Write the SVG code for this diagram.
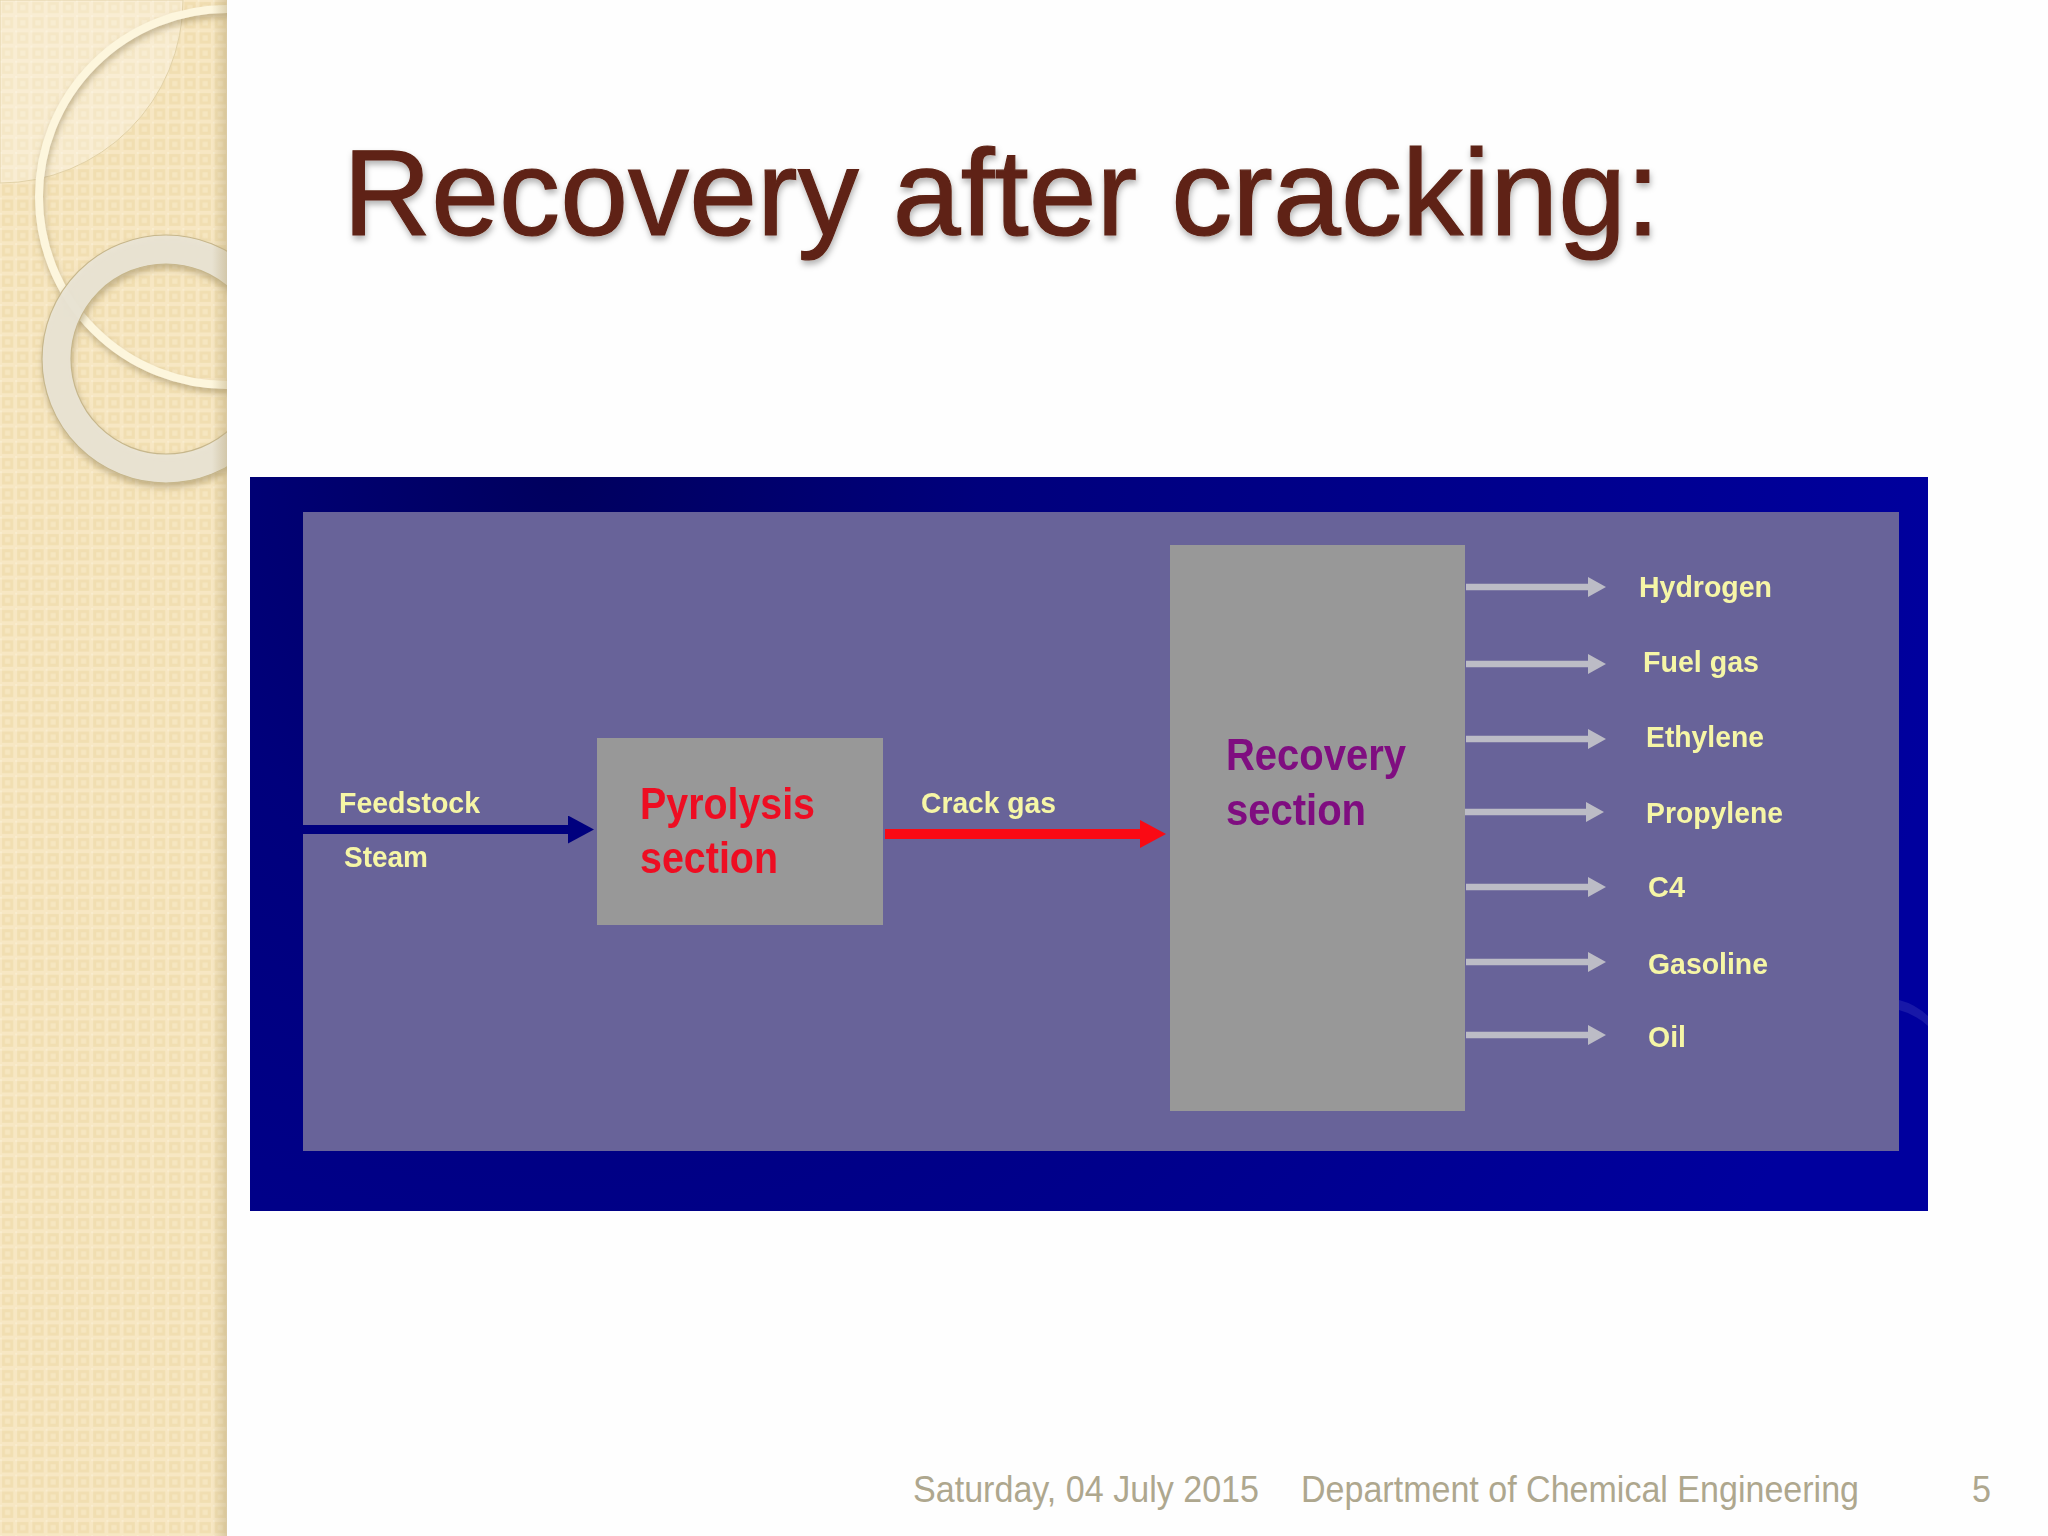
<svg xmlns="http://www.w3.org/2000/svg" width="2048" height="1536" viewBox="0 0 2048 1536">
<defs>
<pattern id="weave" width="15.2" height="15.2" patternUnits="userSpaceOnUse">
<rect width="15.2" height="15.2" fill="#f7e7c3"/>
<rect x="2" y="2" width="11.2" height="11.2" fill="#f1deb1"/>
<rect x="5" y="5" width="5.2" height="5.2" fill="#f6e6c0"/>
<rect x="0" y="0" width="2" height="2" fill="#f9edcf"/>
</pattern>
<linearGradient id="edge" x1="0" x2="1" y1="0" y2="0">
<stop offset="0" stop-color="#b8a67a" stop-opacity="0"/>
<stop offset="1" stop-color="#b8a67a" stop-opacity=".45"/>
</linearGradient>
<radialGradient id="navy" gradientUnits="userSpaceOnUse" cx="560" cy="470" r="1400">
<stop offset="0" stop-color="#00005e"/>
<stop offset=".3" stop-color="#00007c"/>
<stop offset=".65" stop-color="#00008c"/>
<stop offset="1" stop-color="#00009e"/>
</radialGradient>
<clipPath id="side"><rect width="227" height="1536"/></clipPath>
<filter id="ringShadow" x="-20%" y="-20%" width="140%" height="140%"><feDropShadow dx="1" dy="4" stdDeviation="3" flood-color="#8c7a50" flood-opacity=".5"/></filter>
<filter id="titleShadow" x="-5%" y="-20%" width="110%" height="150%"><feDropShadow dx="1" dy="4" stdDeviation="3" flood-color="#000" flood-opacity=".3"/></filter>
<filter id="soft" x="-10%" y="-30%" width="120%" height="160%"><feGaussianBlur stdDeviation=".6"/></filter>
<marker id="hBlue" markerUnits="userSpaceOnUse" markerWidth="27" markerHeight="28" refX="0" refY="14" orient="auto"><path d="M0 0L26 14L0 28Z" fill="#00007e"/></marker>
<marker id="hRed" markerUnits="userSpaceOnUse" markerWidth="27" markerHeight="28" refX="0" refY="14" orient="auto"><path d="M0 0L26 14L0 28Z" fill="#fa0a14"/></marker>
<marker id="hGray" markerUnits="userSpaceOnUse" markerWidth="18" markerHeight="20" refX="0" refY="10" orient="auto"><path d="M0 0L18 10L0 20Z" fill="#bcbcc6"/></marker>
<style>
text{font-family:"Liberation Sans",Arial,sans-serif}
.lab{font-size:30px;font-weight:700;fill:#f6f6a6}
.box{fill:#989898}
.big{font-size:44px;font-weight:700}
.foot{font-size:36px;fill:#aea78e}
.gray{stroke:#bcbcc6;stroke-width:6.5;fill:none;marker-end:url(#hGray)}
</style>
</defs>
<rect width="2048" height="1536" fill="#fefefe"/>
<g id="sidebar" clip-path="url(#side)">
<rect width="227" height="1536" fill="url(#weave)"/>
<path d="M0 0H183A183 183 0 0 1 0 183Z" fill="#fff" fill-opacity=".28" stroke="#e2d2a8" stroke-width="1"/>
<circle cx="227" cy="197" r="188" fill="none" stroke="#fdf6dd" stroke-width="8" filter="url(#ringShadow)"/>
<path fill-rule="evenodd" d="M42 359a124 124 0 1 0 248 0a124 124 0 1 0 -248 0ZM71 359a95 95 0 1 1 190 0a95 95 0 1 1 -190 0Z" fill="#e9e4d5" fill-opacity=".93" stroke="#c7b78c" stroke-width="1.2" filter="url(#ringShadow)"/>
<rect x="212" width="15" height="1536" fill="url(#edge)"/>
</g>
<g id="title"><text x="343" y="235" font-size="122" fill="#5e2314" stroke="#5e2314" stroke-width="1.2" textLength="1317" filter="url(#titleShadow)">Recovery after cracking:</text></g>
<g id="panel">
<rect x="250" y="477" width="1678" height="734" fill="url(#navy)"/>
<path d="M1899 1000V1010Q1915 1014 1928 1026V1016Q1915 1004 1899 1000Z" fill="#1818a8"/>
<rect x="303" y="512" width="1596" height="639" fill="#686399"/>
</g>
<g id="connectors">
<line x1="303" y1="829.5" x2="568" y2="829.5" stroke="#00007e" stroke-width="9" marker-end="url(#hBlue)"/>
<line x1="885" y1="834" x2="1140" y2="834" stroke="#fa0a14" stroke-width="10" marker-end="url(#hRed)"/>
<line class="gray" x1="1466" y1="587" x2="1588" y2="587"/>
<line class="gray" x1="1466" y1="664" x2="1588" y2="664"/>
<line class="gray" x1="1466" y1="739" x2="1588" y2="739"/>
<line class="gray" x1="1464" y1="812" x2="1586" y2="812"/>
<line class="gray" x1="1466" y1="887" x2="1588" y2="887"/>
<line class="gray" x1="1466" y1="962" x2="1588" y2="962"/>
<line class="gray" x1="1466" y1="1035" x2="1588" y2="1035"/>
</g>
<g id="pyrolysis">
<rect class="box" x="597" y="738" width="286" height="187"/>
<text class="big" x="640" y="819" fill="#ee0f23" textLength="175" lengthAdjust="spacingAndGlyphs" filter="url(#soft)">Pyrolysis</text>
<text class="big" x="640" y="873" fill="#ee0f23" textLength="138" lengthAdjust="spacingAndGlyphs" filter="url(#soft)">section</text>
</g>
<g id="recovery">
<rect class="box" x="1170" y="545" width="295" height="566"/>
<text class="big" x="1226" y="770" fill="#7f0a80" textLength="180" lengthAdjust="spacingAndGlyphs" filter="url(#soft)">Recovery</text>
<text class="big" x="1226" y="825" fill="#7f0a80" textLength="140" lengthAdjust="spacingAndGlyphs" filter="url(#soft)">section</text>
</g>
<g id="feedstock"><text class="lab" x="339" y="813" textLength="141" lengthAdjust="spacingAndGlyphs" filter="url(#soft)">Feedstock</text></g>
<g id="steam"><text class="lab" x="344" y="867" textLength="84" lengthAdjust="spacingAndGlyphs" filter="url(#soft)">Steam</text></g>
<g id="crack-gas"><text class="lab" x="921" y="813" textLength="135" lengthAdjust="spacingAndGlyphs" filter="url(#soft)">Crack gas</text></g>
<g id="hydrogen"><text class="lab" x="1639" y="597" textLength="133" lengthAdjust="spacingAndGlyphs" filter="url(#soft)">Hydrogen</text></g>
<g id="fuel-gas"><text class="lab" x="1643" y="672" textLength="116" lengthAdjust="spacingAndGlyphs" filter="url(#soft)">Fuel gas</text></g>
<g id="ethylene"><text class="lab" x="1646" y="747" textLength="118" lengthAdjust="spacingAndGlyphs" filter="url(#soft)">Ethylene</text></g>
<g id="propylene"><text class="lab" x="1646" y="823" textLength="137" lengthAdjust="spacingAndGlyphs" filter="url(#soft)">Propylene</text></g>
<g id="c4"><text class="lab" x="1648" y="897" textLength="37" lengthAdjust="spacingAndGlyphs" filter="url(#soft)">C4</text></g>
<g id="gasoline"><text class="lab" x="1648" y="974" textLength="120" lengthAdjust="spacingAndGlyphs" filter="url(#soft)">Gasoline</text></g>
<g id="oil"><text class="lab" x="1648" y="1047" textLength="38" lengthAdjust="spacingAndGlyphs" filter="url(#soft)">Oil</text></g>
<g id="footer">
<text class="foot" x="913" y="1502" textLength="346" lengthAdjust="spacingAndGlyphs">Saturday, 04 July 2015</text>
<text class="foot" x="1301" y="1502" textLength="558" lengthAdjust="spacingAndGlyphs">Department of Chemical Engineering</text>
<text class="foot" x="1972" y="1502" textLength="19" lengthAdjust="spacingAndGlyphs">5</text>
</g>
</svg>
